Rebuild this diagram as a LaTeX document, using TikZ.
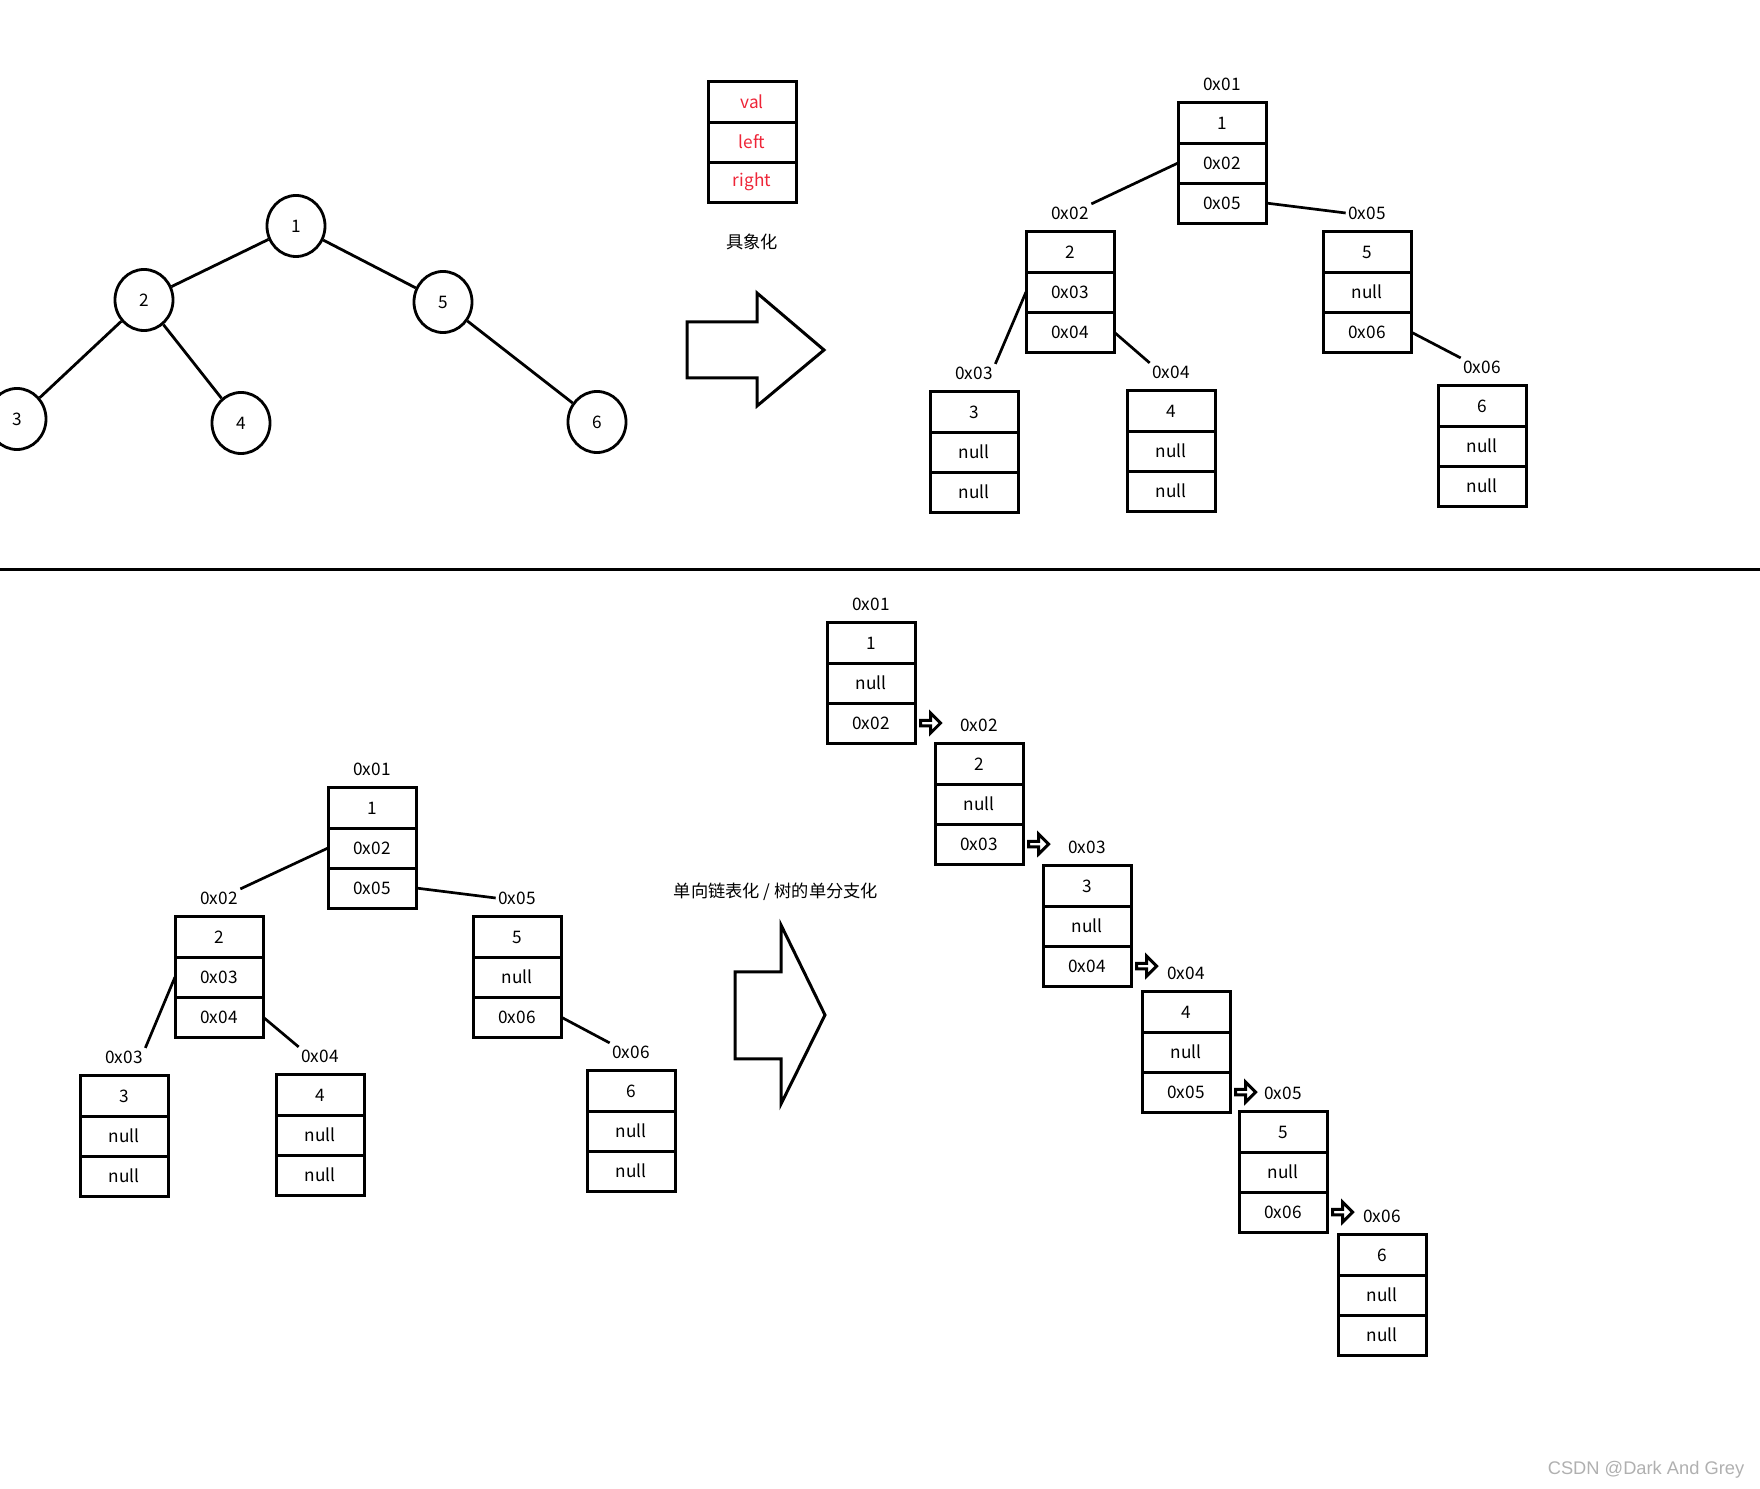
\documentclass[tikz,border=0pt]{standalone}
\usepackage{fontspec}
\setmainfont{Noto Sans CJK SC}
\newfontfamily\markfont{Liberation Sans}
\usetikzlibrary{positioning,shapes.geometric,shapes.arrows}
\definecolor{btInk}{HTML}{000000}
\definecolor{btRed}{HTML}{EE2538}
\definecolor{btMark}{HTML}{B0B0B0}
\tikzset{
  bt rule/.style={draw=btInk, line width=0.03cm},
  bt vertex/.style={ellipse, draw=btInk, line width=0.028cm, minimum width=0.58cm, minimum height=0.61cm, inner sep=0pt, font=\fontsize{4.9}{6}\selectfont},
  bt edge/.style={draw=btInk, line width=0.028cm},
  bt cell/.style={rectangle, draw=btInk, line width=0.03cm, minimum width=0.88cm, minimum height=0.4cm, inner sep=0pt, outer sep=0pt, font=\fontsize{4.9}{6}\selectfont},
  bt field/.style={bt cell, text=btRed},
  bt addr/.style={inner sep=0.02cm, font=\fontsize{4.9}{6}\selectfont},
  bt link/.style={draw=btInk, line width=0.027cm},
  bt big arrow/.style={draw=btInk, line width=0.03cm, line join=miter},
  bt ptr/.style={single arrow, draw=btInk, line width=0.03cm, minimum height=0.2cm, minimum width=0.2cm, single arrow head extend=0.04cm, inner sep=0pt},
  bt caption/.style={font=\fontsize{4.9}{6}\selectfont},
  bt mark/.style={font=\markfont\fontsize{5.2}{6}\selectfont, text=btMark},
}

\begin{document}
\begin{tikzpicture}[x=0.01cm,y=-0.01cm]
  \useasboundingbox (0,0) rectangle (1760,1489);

  \foreach \n/\x/\y in {1/296/226,2/144/300,5/443/302,3/17/419,4/241/423,6/597/422}
    \node[bt vertex] (v\n) at (\x,\y) {\n};
  \foreach \a/\b in {1/2,1/5,2/3,2/4,5/6}
    \draw[bt edge] (v\a) -- (v\b);

  \node[bt field, anchor=north west] (f1) at (708,82) {val};
  \node[bt field, below=0pt of f1] (f2) {left};
  \node[bt field, below=0pt of f2] (f3) {right};
  \node[bt caption] (concrete) at (752,242) {具象化};
  \draw[bt big arrow] (687,322) -- (757,322) -- (757,293) -- (824,350) -- (757,406) -- (757,378) -- (687,378) -- cycle;

  \foreach \n/\x/\y/\a/\p/\q/\r in {t1/1178/103/0x01/1/0x02/0x05, t2/1026/232/0x02/2/0x03/0x04,
      t5/1323/232/0x05/5/null/0x06, t3/930/392/0x03/3/null/null, t4/1127/391/0x04/4/null/null,
      t6/1438/386/0x06/6/null/null,
      b1/328/788/0x01/1/0x02/0x05, b2/175/917/0x02/2/0x03/0x04, b5/473/917/0x05/5/null/0x06,
      b3/80/1076/0x03/3/null/null, b4/276/1075/0x04/4/null/null, b6/587/1071/0x06/6/null/null,
      c1/827/623/0x01/1/null/0x02, c2/935/744/0x02/2/null/0x03, c3/1043/866/0x03/3/null/0x04,
      c4/1142/992/0x04/4/null/0x05, c5/1239/1112/0x05/5/null/0x06, c6/1338/1235/0x06/6/null/null} {
    \node[bt cell, anchor=north west] (\n-1) at (\x,\y) {\p};
    \node[bt cell, below=0pt of \n-1] (\n-2) {\q};
    \node[bt cell, below=0pt of \n-2] (\n-3) {\r};
    \node[bt addr] (\n-a) at (\x+44,\y-19) {\a};
  }

  \foreach \s/\e in {t1-2.west/t2-a.north east, t1-3.east/t5-a.west, t2-2.west/t3-a.north east,
      t2-3.east/t4-a.north west, t5-3.east/t6-a.north west,
      b1-2.west/b2-a.north east, b1-3.east/b5-a.west, b2-2.west/b3-a.north east,
      b2-3.east/b4-a.north west, b5-3.east/b6-a.north west}
    \draw[bt link] (\s) -- (\e);
  \foreach \n in {c1,c2,c3,c4,c5}
    \node[bt ptr, right=0.04cm of \n-3] (\n-p) {};

  \draw[bt rule] (0,570) -- (1760,570);
  \node[bt caption] (flatten) at (776,892) {单向链表化 / 树的单分支化};
  \draw[bt big arrow] (735,972) -- (781,972) -- (781,925) -- (825,1015) -- (781,1104) -- (781,1059) -- (735,1059) -- cycle;
  \node[bt mark] (mark) at (1646,1470) {CSDN @Dark And Grey};
\end{tikzpicture}
\end{document}
